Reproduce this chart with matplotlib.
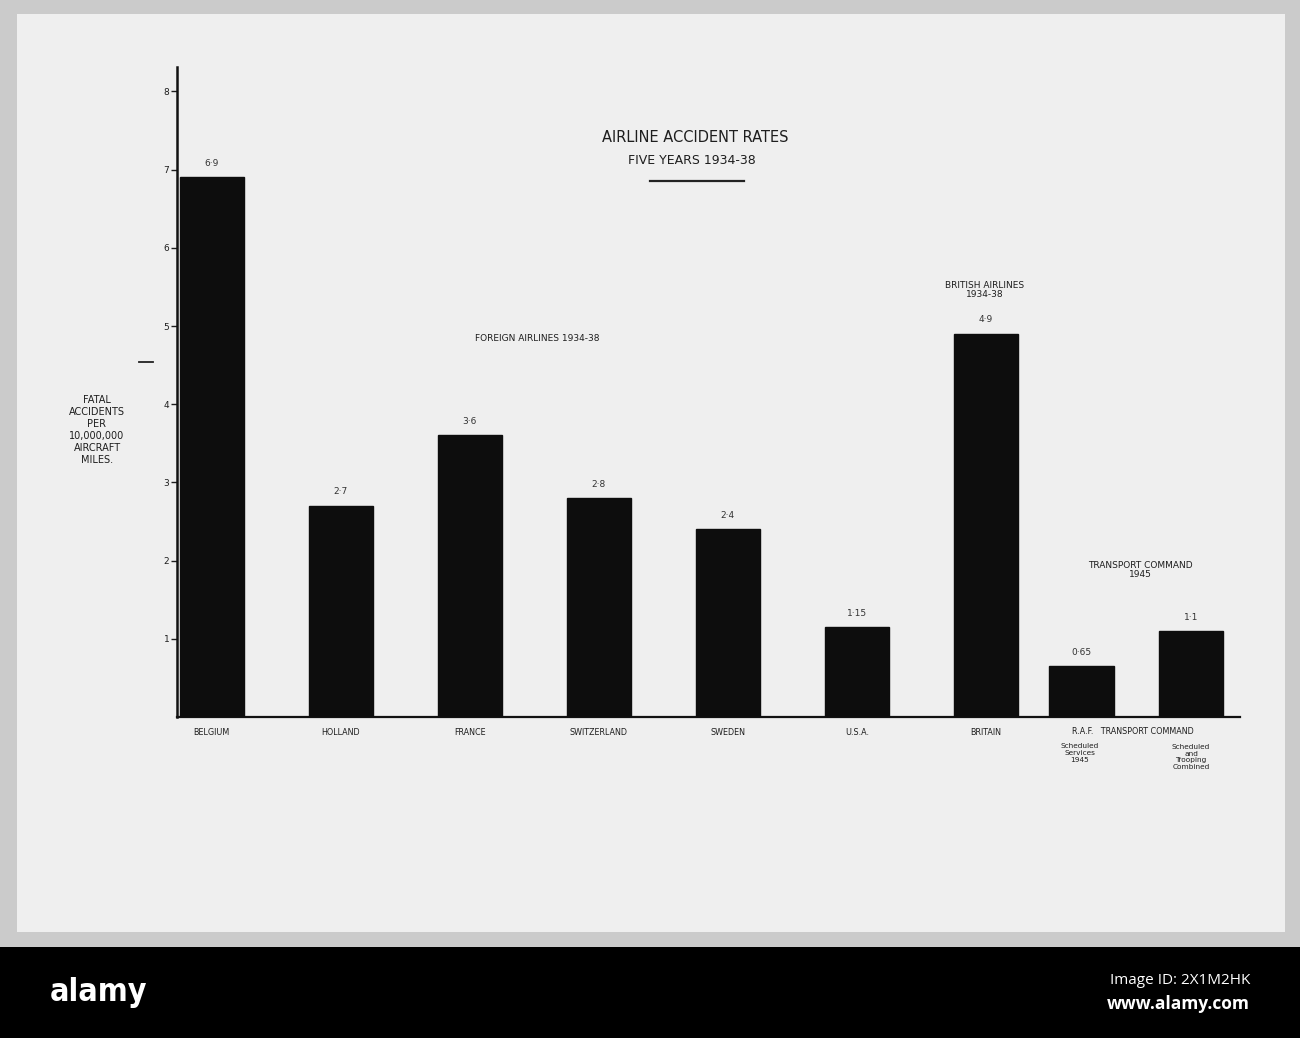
import matplotlib
matplotlib.use("Agg")
import matplotlib.pyplot as plt
from matplotlib.patches import Rectangle
from matplotlib.lines import Line2D

# ---- data ----
categories = ["BELGIUM", "HOLLAND", "FRANCE", "SWITZERLAND", "SWEDEN", "U.S.A.",
              "BRITAIN", "RAF_SCHED", "TC_COMBINED"]
values = [6.9, 2.7, 3.6, 2.8, 2.4, 1.15, 4.9, 0.65, 1.1]
value_labels = ["6·9", "2·7", "3·6", "2·8", "2·4", "1·15", "4·9", "0·65", "1·1"]
tick_labels = ["BELGIUM", "HOLLAND", "FRANCE", "SWITZERLAND", "SWEDEN", "U.S.A.",
               "BRITAIN", "", ""]
y_ticks = [1, 2, 3, 4, 5, 6, 7, 8]

# ---- layout ----
positions = [0, 1, 2, 3, 4, 5, 6, 6.74, 7.59]
bar_width = 0.5
W, H = 1300, 1038
TXT = "#1e1e1e"
FONT = "DejaVu Sans"

fig = plt.figure(figsize=(W / 100, H / 100), dpi=100)
fig.patch.set_facecolor("#cbcbcb")

def fx(px):
    return px / W

def fy(py):
    return 1 - py / H

# paper and black band
fig.add_artist(Rectangle((fx(17), fy(932)), fx(1285) - fx(17), fy(14) - fy(932),
                         transform=fig.transFigure, facecolor="#efefef",
                         edgecolor="none", zorder=0))
fig.add_artist(Rectangle((0, 0), 1, fy(947), transform=fig.transFigure,
                         facecolor="#000000", edgecolor="none", zorder=0))

ax_left, ax_right, ax_top, ax_bot = 177, 1240, 67, 717
ax = fig.add_axes([fx(ax_left), fy(ax_bot), fx(ax_right) - fx(ax_left),
                   fy(ax_top) - fy(ax_bot)])
ax.set_facecolor("none")

ax.bar(positions, values, width=bar_width, color="#0d0d0d",
       edgecolor="#0d0d0d", linewidth=1, zorder=3)

ymax = (ax_bot - ax_top) / 78.2
ax.set_ylim(0, ymax)
ax.set_xlim(-0.27, 7.97)

for p, v, lab in zip(positions, values, value_labels):
    ax.text(p, v + 0.12, lab, ha="center", va="bottom", fontsize=6.5,
            color="#333333", family=FONT)

ax.set_yticks(y_ticks)
ax.set_yticklabels([str(t) for t in y_ticks])
ax.tick_params(axis="y", direction="out", length=4, width=1, pad=1.5,
               labelsize=6.5, colors=TXT)
ax.set_xticks(positions)
ax.set_xticklabels(tick_labels)
ax.tick_params(axis="x", length=0, pad=8, labelsize=5.8, colors=TXT)

for s in ("top", "right"):
    ax.spines[s].set_visible(False)
ax.spines["left"].set_linewidth(1.8)
ax.spines["bottom"].set_linewidth(1.6)
ax.spines["left"].set_color("#111111")
ax.spines["bottom"].set_color("#111111")

# y-axis label
fig.text(fx(97), fy(430), "FATAL\nACCIDENTS\nPER\n10,000,000\nAIRCRAFT\nMILES.",
         ha="center", va="center", fontsize=7, linespacing=1.25, color=TXT,
         family=FONT)
# stray dash on the left
fig.add_artist(Line2D([fx(139), fx(153)], [fy(362), fy(362)],
                      transform=fig.transFigure, color="#222222", linewidth=1.3))

# titles
fig.text(fx(695), fy(137), "AIRLINE ACCIDENT RATES", ha="center", va="center",
         fontsize=10.5, color=TXT, family=FONT)
fig.text(fx(692), fy(160), "FIVE YEARS 1934-38", ha="center", va="center",
         fontsize=9, color=TXT, family=FONT)
fig.add_artist(Line2D([fx(650), fx(744)], [fy(181), fy(181)],
                      transform=fig.transFigure, color="#222222", linewidth=1.6))

# group labels
fig.text(fx(537), fy(338), "FOREIGN AIRLINES 1934-38", ha="center", va="center",
         fontsize=6.5, color=TXT, family=FONT)
fig.text(fx(985), fy(290), "BRITISH AIRLINES\n1934-38", ha="center", va="center",
         fontsize=6.5, color=TXT, family=FONT, linespacing=1.1)
fig.text(fx(1140), fy(570), "TRANSPORT COMMAND\n1945", ha="center", va="center",
         fontsize=6.5, color=TXT, family=FONT, linespacing=1.1)

# transport command category labels
fig.text(fx(1133), fy(731), "R.A.F.   TRANSPORT COMMAND", ha="center", va="center",
         fontsize=5.8, color=TXT, family=FONT)
fig.text(fx(1080), fy(753), "Scheduled\nServices\n1945", ha="center", va="center",
         fontsize=5.3, color=TXT, family=FONT, linespacing=1.15)
fig.text(fx(1191), fy(757), "Scheduled\nand\nTrooping\nCombined", ha="center",
         va="center", fontsize=5.3, color=TXT, family=FONT, linespacing=1.15)

# stock-photo band text
fig.text(fx(50), fy(993), "alamy", ha="left", va="center", fontsize=23,
         fontweight="bold", color="white", family="DejaVu Sans",
         fontstretch="condensed")
fig.text(fx(1250), fy(980), "Image ID: 2X1M2HK", ha="right", va="center",
         fontsize=11, color="white", family="Open Sans")
fig.text(fx(1250), fy(1004), "www.alamy.com", ha="right", va="center",
         fontsize=12.5, fontweight="bold", color="white", family="Open Sans")

fig.savefig("out.png", dpi=100, facecolor=fig.get_facecolor())
